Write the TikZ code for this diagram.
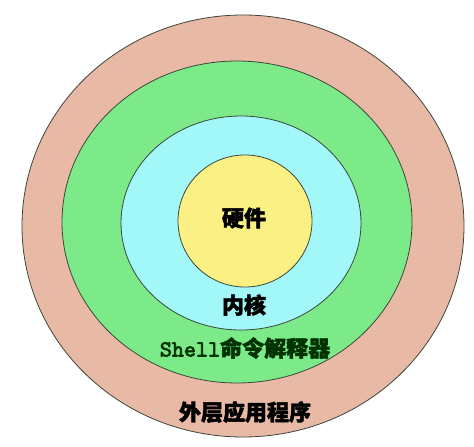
\documentclass[tikz,border=0pt]{standalone}
\usepackage{fontspec}
\usepackage{xcolor}
\newfontfamily\cjk{Noto Sans CJK SC}[FakeBold=2]
\newfontfamily\shellfont{lmmono10-regular.otf}[FakeBold=3]
\definecolor{appring}{RGB}{232,186,166}
\definecolor{shellring}{RGB}{124,234,136}
\definecolor{kernelring}{RGB}{162,248,248}
\definecolor{hwcore}{RGB}{250,240,132}
\definecolor{ringline}{RGB}{60,70,60}

\begin{document}
\begin{tikzpicture}[
            x=1pt, y=-1pt,
            ring/.style={draw=ringline, line width=0.8pt},
            label/.style={font=\cjk\bfseries\fontsize{22}{24}\selectfont, text=black, inner sep=0pt}
        ]
        \useasboundingbox (0,0) rectangle (474,447);
        
        \fill[white] (0,0) rectangle (474,447);
        \draw[ring, fill=appring] (243,226) ellipse [x radius=221, y radius=211];
        \draw[ring, fill=shellring] (237,222) ellipse [x radius=175, y radius=161];
        \draw[ring, fill=kernelring] (241,223) ellipse [x radius=120, y radius=107];
        \draw[ring, fill=hwcore] (245,221) ellipse [x radius=67, y radius=66];
        
        \node[label] (hw) at (244,218) {硬件};
        \node[label] (kernel) at (244,305) {内核};
        \node[label, text=black!80!green] (shell) at (245,348) {{\shellfont\fontsize{23}{24}\selectfont Shell}命令解释器};
        \node[label] (apps) at (245,412) {外层应用程序};
        
        \end{tikzpicture}
\end{document}
